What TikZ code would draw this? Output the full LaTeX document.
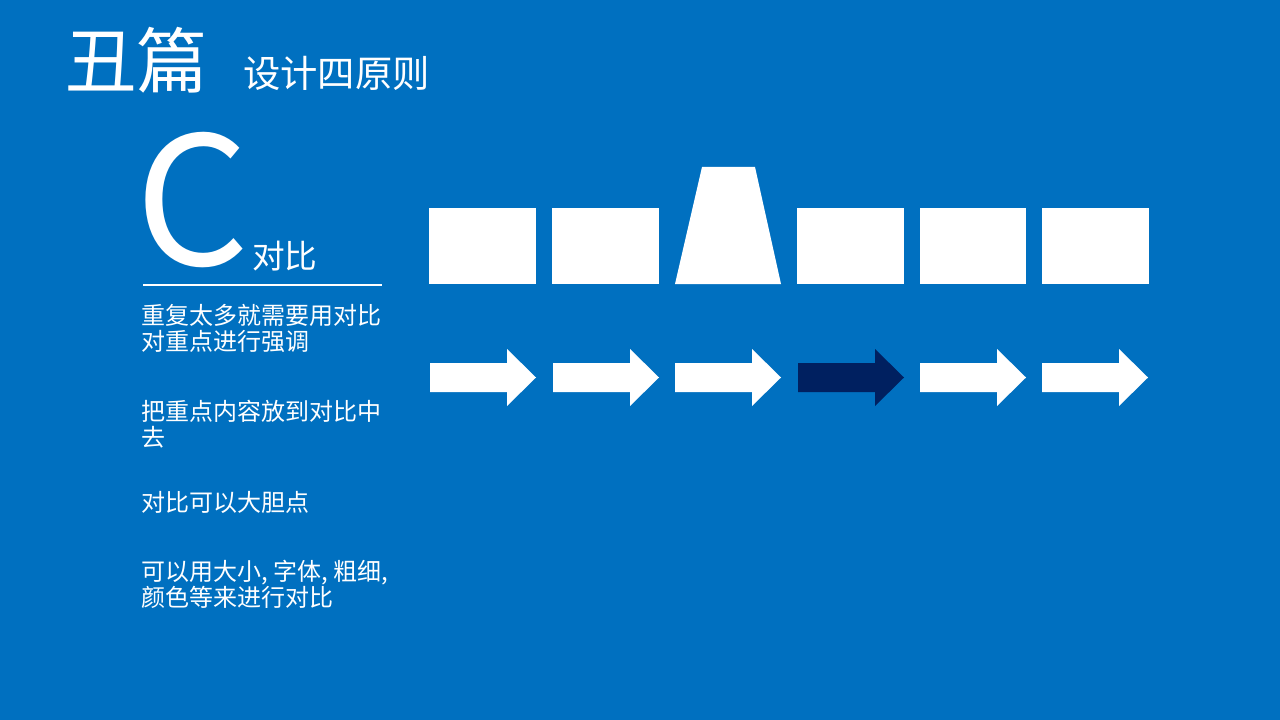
\documentclass[tikz,border=0pt]{standalone}
\usepackage{fontspec}
\setmainfont{Noto Sans CJK SC}
\usepackage{tikz}
\usetikzlibrary{calc}
\definecolor{bgblue}{RGB}{0,112,192}
\definecolor{darkblue}{RGB}{0,32,96}

\begin{document}
\begin{tikzpicture}[x=0.75pt, y=-0.75pt,
    every node/.style={text=white, inner sep=0pt, outer sep=0pt},
    bodytext/.style={anchor=base west, font=\fontsize{18}{19.5}\selectfont, align=left}]
  % background
  \fill[bgblue] (0,0) rectangle (1280,720);
  \useasboundingbox (0,0) rectangle (1280,720);

  % title
  \node[anchor=base west, font=\fontsize{53.5}{53.5}\selectfont] (title) at (65,88) {丑篇};
  \node[anchor=base west, font=\fontsize{28}{28}\selectfont] (subtitle) at (243,88) {设计四原则};

  % big letter with its word
  \node[anchor=base west, font=\fontsize{134}{134}\selectfont] (bigc) at (135,265) {C};
  \node[anchor=base west, font=\fontsize{24.5}{24.5}\selectfont] (contrast) at (252,268) {对比};
  \draw[white, line width=1.5pt] (143,285) -- (382,285);

  % notes (base = last line)
  \node[bodytext] (notea) at (141,350) {重复太多就需要用对比\\对重点进行强调};
  \node[bodytext] (noteb) at (141,446) {把重点内容放到对比中\\去};
  \node[bodytext] (notec) at (141,511) {对比可以大胆点};
  \node[bodytext] (noted) at (141,606) {可以用大小, 字体, 粗细,\\颜色等来进行对比};

  % boxes
  \fill[white] (429,208) rectangle (536,284);
  \fill[white] (552,208) rectangle (659,284);
  \fill[white] (675,284) -- (702,167) -- (755,167) -- (781,284) -- cycle;
  \fill[white] (797,208) rectangle (904,284);
  \fill[white] (920,208) rectangle (1026,284);
  \fill[white] (1042,208) rectangle (1149,284);

  % arrows
  \fill[white] (430,363) -- ++(77,0) -- ++(0,-14) -- ++(29,28.5) -- ++(-29,28.5) -- ++(0,-14) -- ++(-77,0) -- cycle;
  \fill[white] (553,363) -- ++(77,0) -- ++(0,-14) -- ++(29,28.5) -- ++(-29,28.5) -- ++(0,-14) -- ++(-77,0) -- cycle;
  \fill[white] (675,363) -- ++(77,0) -- ++(0,-14) -- ++(29,28.5) -- ++(-29,28.5) -- ++(0,-14) -- ++(-77,0) -- cycle;
  \fill[darkblue] (798,363) -- ++(77,0) -- ++(0,-14) -- ++(29,28.5) -- ++(-29,28.5) -- ++(0,-14) -- ++(-77,0) -- cycle;
  \fill[white] (920,363) -- ++(77,0) -- ++(0,-14) -- ++(29,28.5) -- ++(-29,28.5) -- ++(0,-14) -- ++(-77,0) -- cycle;
  \fill[white] (1042,363) -- ++(77,0) -- ++(0,-14) -- ++(29,28.5) -- ++(-29,28.5) -- ++(0,-14) -- ++(-77,0) -- cycle;
\end{tikzpicture}
\end{document}
